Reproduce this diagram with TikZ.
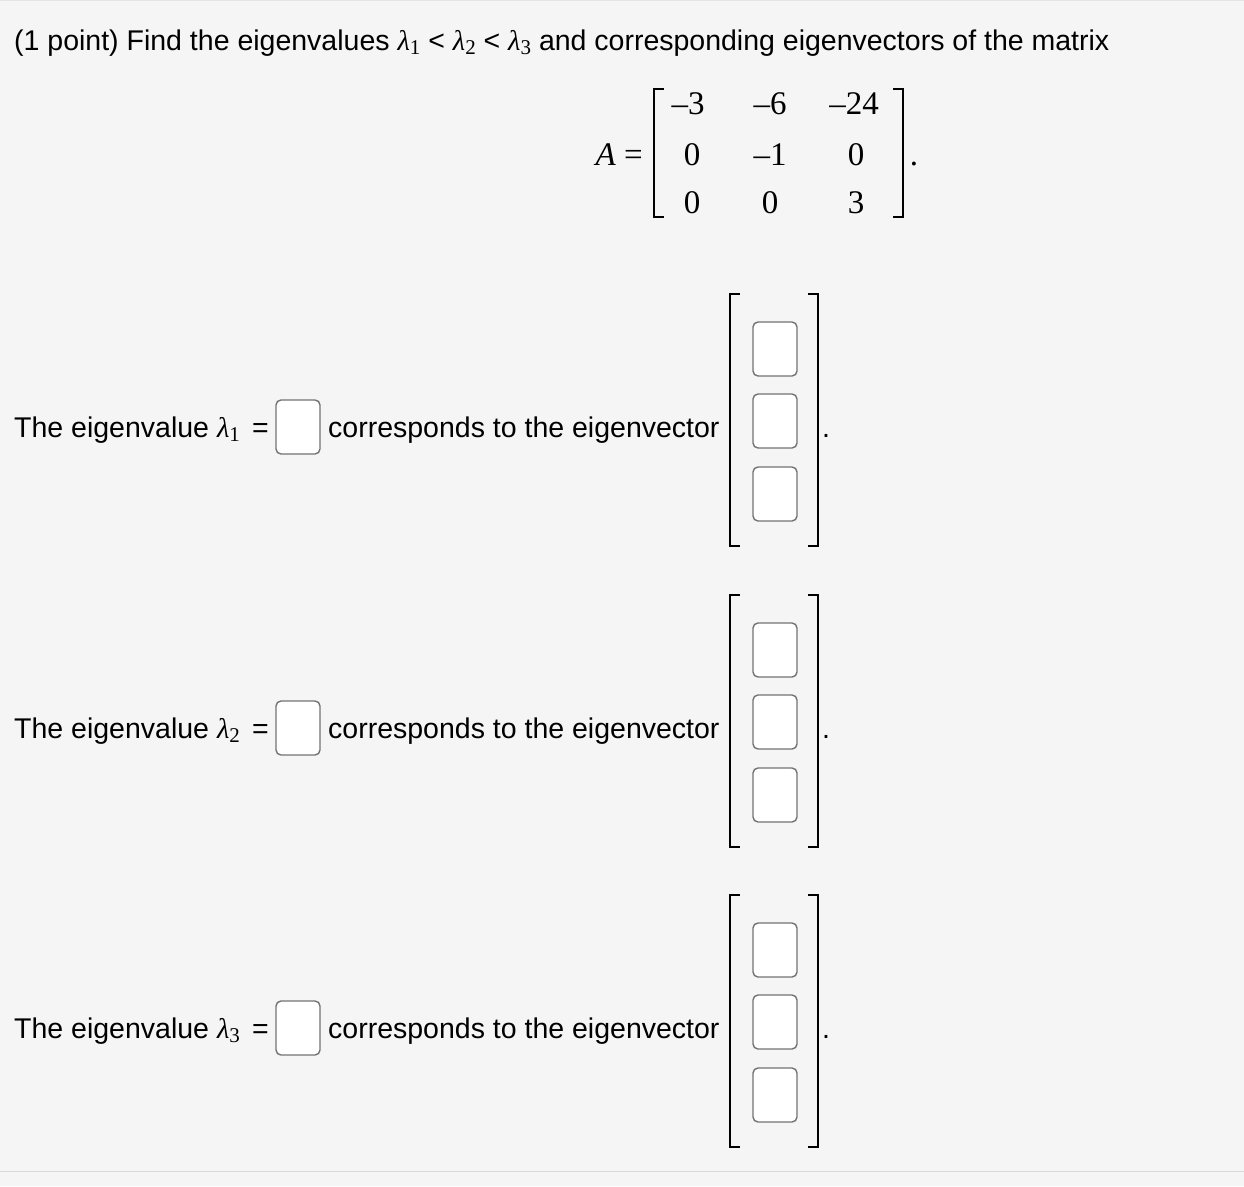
\documentclass[tikz,border=0pt]{standalone}
\usepackage{fontspec}
\setmainfont{Liberation Sans}
\newfontfamily\serifm{Liberation Serif}
\newcommand{\mylam}[1]{{\serifm\itshape λ}\raisebox{-0.3ex}{\serifm\fontsize{21}{21}\selectfont #1}}
\begin{document}
\begin{tikzpicture}[x=1pt,y=-1pt,
  txt/.style={anchor=base west,inner sep=0pt,font=\fontsize{28.5}{32}\selectfont},
  ent/.style={anchor=base,inner sep=0pt,font=\serifm\fontsize{33}{36}\selectfont},
  inbox/.style={draw=black!55,line width=1.4pt,fill=white,rounded corners=5pt},
  brk/.style={line width=2pt}]
\fill[gray!8] (0,0) rectangle (1244,1186);
\useasboundingbox (0,0) rectangle (1244,1186);
\draw[black!15,line width=1pt] (0,1171) -- (1244,1171);
\draw[black!10,line width=1pt] (0,0.5) -- (1244,0.5);
\node[txt] (title) at (14,50) {(1 point) Find the eigenvalues \mylam{1} < \mylam{2} < \mylam{3} and corresponding eigenvectors of the matrix};
% matrix
\node[ent,anchor=base east] (A) at (643,165) {\textit{A} =};
\draw[brk] (664,89) -- (654,89) -- (654,217) -- (664,217);
\draw[brk] (893,89) -- (903,89) -- (903,217) -- (893,217);
\node[ent] (m11) at (688,114) {\textendash 3};
\node[ent] (m12) at (770,114) {\textendash 6};
\node[ent] (m13) at (854,114) {\textendash 24};
\node[ent] (m21) at (692,165) {0};
\node[ent] (m22) at (770,165) {\textendash 1};
\node[ent] (m23) at (856,165) {0};
\node[ent] (m31) at (692,213) {0};
\node[ent] (m32) at (770,213) {0};
\node[ent] (m33) at (856,213) {3};
\node[ent] (mdot) at (914,165) {.};
% rows
\foreach \i/\o in {1/0,2/301,3/601}{
  \node[txt] (lab\i) at (14,437+\o) {The eigenvalue \mylam{\i}};
  \node[txt] (eq\i) at (252,437+\o) {=};
  \draw[inbox] (276,400+\o) rectangle (320,454+\o);
  \node[txt] (cor\i) at (328,437+\o) {corresponds to the eigenvector};
  \draw[brk] (740,294+\o) -- (730,294+\o) -- (730,546+\o) -- (740,546+\o);
  \draw[brk] (808,294+\o) -- (818,294+\o) -- (818,546+\o) -- (808,546+\o);
  \draw[inbox] (753,322+\o) rectangle (797,376+\o);
  \draw[inbox] (753,394+\o) rectangle (797,448+\o);
  \draw[inbox] (753,467+\o) rectangle (797,521+\o);
  \node[txt] (dot\i) at (822,437+\o) {.};
}
\end{tikzpicture}
\end{document}
